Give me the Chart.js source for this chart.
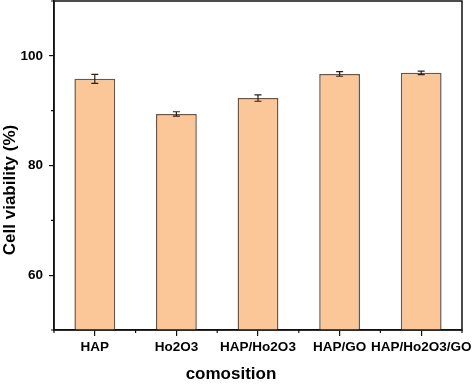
<!DOCTYPE html>
<html>
<head>
<meta charset="utf-8">
<script src="https://cdn.jsdelivr.net/npm/chart.js@4/dist/chart.umd.min.js"></script>
<style>
  html, body { margin: 0; padding: 0; background: #ffffff; }
  #wrap { width: 474px; height: 387px; position: relative; }
</style>
</head>
<body>
<div id="wrap"><canvas id="c" width="474" height="387"></canvas></div>
<script>
const categories = ['HAP', 'Ho2O3', 'HAP/Ho2O3', 'HAP/GO', 'HAP/Ho2O3/GO'];
const viability = [95.8, 89.4, 92.3, 96.7, 96.9];
const errors = [0.82, 0.4, 0.58, 0.42, 0.31];
const yMajorTicks = [60, 80, 100];
const yMinorTicks = [50, 70, 90, 110];
const yTitle = 'Cell viability (%)';
const xTitle = 'comosition';

const FONT = '"Liberation Sans", Arial, Helvetica, sans-serif';

const extrasPlugin = {
  id: 'extras',
  afterDatasetsDraw(chart) {
    const ctx = chart.ctx;
    const x = chart.scales.x, y = chart.scales.y;
    const meta = chart.getDatasetMeta(0);
    ctx.save();
    ctx.strokeStyle = '#2b2118';
    ctx.lineWidth = 1.2;
    meta.data.forEach((bar, i) => {
      const cx = bar.x;
      const yHi = y.getPixelForValue(viability[i] + errors[i]);
      const yLo = y.getPixelForValue(viability[i] - errors[i]);
      const cap = 3.5;
      ctx.beginPath();
      ctx.moveTo(cx, yHi); ctx.lineTo(cx, yLo);
      ctx.moveTo(cx - cap, yHi); ctx.lineTo(cx + cap, yHi);
      ctx.moveTo(cx - cap, yLo); ctx.lineTo(cx + cap, yLo);
      ctx.stroke();
    });
    ctx.restore();
  },
  afterDraw(chart) {
    const ctx = chart.ctx;
    const a = chart.chartArea;
    const x = chart.scales.x, y = chart.scales.y;
    ctx.save();
    ctx.strokeStyle = '#111111';
    ctx.lineWidth = 1.5;
    ctx.strokeRect(a.left, a.top, a.right - a.left, a.bottom - a.top);
    ctx.lineWidth = 1.2;
    ctx.beginPath();
    yMinorTicks.forEach(v => {
      const py = y.getPixelForValue(v);
      ctx.moveTo(a.left - 3, py); ctx.lineTo(a.left, py);
    });
    const n = categories.length;
    for (let i = 0; i <= n; i++) {
      const px = x.getPixelForValue(i - 0.5);
      ctx.moveTo(px, a.bottom); ctx.lineTo(px, a.bottom + 3);
    }
    ctx.stroke();
    ctx.fillStyle = '#000000';
    ctx.font = 'bold 17px ' + FONT;
    ctx.textAlign = 'center';
    ctx.textBaseline = 'middle';
    ctx.translate(10, 190);
    ctx.rotate(-Math.PI / 2);
    ctx.fillText(yTitle, 0, 0);
    ctx.restore();
  }
};

new Chart(document.getElementById('c'), {
  type: 'bar',
  data: {
    labels: categories,
    datasets: [{
      data: viability,
      backgroundColor: '#FCC798',
      borderColor: '#6b5646',
      borderWidth: 1.5,
      categoryPercentage: 1.0,
      barPercentage: 0.5
    }]
  },
  options: {
    responsive: false,
    animation: false,
    devicePixelRatio: 1,
    layout: { padding: { top: 1, right: 12, left: 0, bottom: 0 } },
    plugins: {
      legend: { display: false },
      tooltip: { enabled: false },
      title: {
        display: true,
        position: 'bottom',
        text: xTitle,
        color: '#000000',
        font: { family: FONT, size: 17, weight: 'bold' },
        padding: { top: 0, bottom: 2 }
      }
    },
    scales: {
      x: {
        offset: true,
        grid: { display: true, drawOnChartArea: false, drawTicks: true, tickLength: 6, offset: false, color: '#111111', lineWidth: 1.2 },
        border: { display: true, color: '#111111', width: 1.5 },
        ticks: {
          color: '#000000',
          font: { family: FONT, size: 13.5, weight: 'bold' },
          padding: 3,
          autoSkip: false,
          maxRotation: 0,
          minRotation: 0
        },
        afterFit(scale) { scale.height = 34.6; scale.paddingLeft = 0; scale.paddingRight = 0; }
      },
      y: {
        min: 50,
        max: 110,
        afterBuildTicks(scale) { scale.ticks = yMajorTicks.map(v => ({ value: v })); },
        grid: { display: true, drawOnChartArea: false, drawTicks: true, tickLength: 5, color: '#111111', lineWidth: 1.2 },
        border: { display: true, color: '#111111', width: 1.5 },
        ticks: {
          color: '#000000',
          font: { family: FONT, size: 13.5, weight: 'bold' },
          padding: 6
        },
        afterFit(scale) { scale.width = 54; scale.paddingTop = 0; scale.paddingBottom = 0; }
      }
    }
  },
  plugins: [extrasPlugin]
});
</script>
</body>
</html>
